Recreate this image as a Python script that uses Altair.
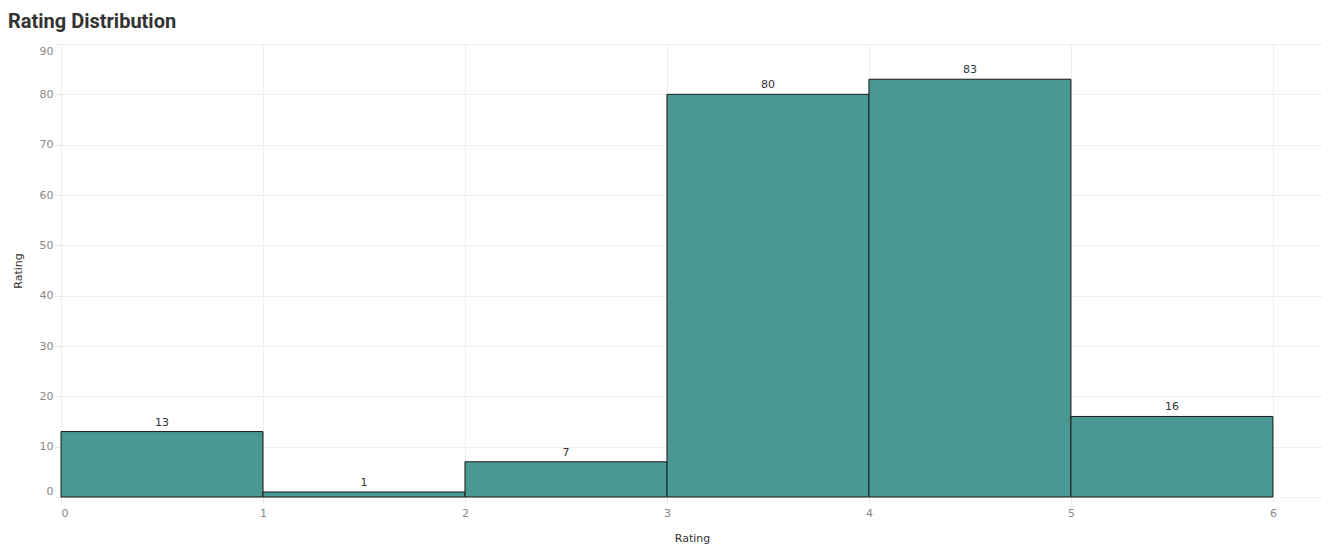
import altair as alt
import pandas as pd

bin_start = [0, 1, 2, 3, 4, 5]
bin_end = [1, 2, 3, 4, 5, 6]
counts = [13, 1, 7, 80, 83, 16]
y_ticks = [0, 10, 20, 30, 40, 50, 60, 70, 80, 90]
x_ticks = [0, 1, 2, 3, 4, 5, 6]

df = pd.DataFrame({"start": bin_start, "end": bin_end, "count": counts})

FONT = "DejaVu Sans"
x_scale = alt.Scale(domain=[0, 6.248], nice=False, zero=False)
y_scale = alt.Scale(domain=[0, 90], nice=False)

base = alt.Chart(df)

bars = base.mark_rect(fill="#4a9893", stroke="#1a1a1a", strokeWidth=1).encode(
    x=alt.X("start:Q", scale=x_scale,
            axis=alt.Axis(title="Rating", values=x_ticks, format="d", labelFlush=True)),
    x2="end:Q",
    y=alt.Y("count:Q", scale=y_scale,
            axis=alt.Axis(title="Rating", values=y_ticks, format="d", labelFlush=True,
                          labelFlushOffset=-1)),
    y2=alt.datum(0),
)

labels = base.mark_text(baseline="bottom", dy=-4, font=FONT, fontSize=11, color="#333333").encode(
    x=alt.X("mid:Q", scale=x_scale),
    y=alt.Y("count:Q", scale=y_scale),
    text=alt.Text("count:Q", format="d"),
).transform_calculate(mid="(datum.start + datum.end) / 2")

chart = (bars + labels).properties(
    width=1262,
    height=453,
    autosize=alt.AutoSizeParams(type="none"),
    padding={"left": 53, "top": 36, "right": 0, "bottom": 48},
    title=alt.TitleParams("Rating Distribution", anchor="start", frame="group", font="Roboto",
                          fontSize=20, fontWeight="bold", color="#333333", dx=-53, offset=12),
).configure_view(stroke=None).configure_axis(
    domain=False,
    grid=True,
    gridColor="#efefef",
    tickColor="#e6e6e6",
    tickSize=6,
    labelFont=FONT,
    labelFontSize=11,
    labelColor="#888888",
    titleFont=FONT,
    titleFontSize=11,
    titleFontWeight="normal",
    titleColor="#333333",
).configure_axisX(labelPadding=4, titlePadding=14).configure_axisY(labelPadding=2, titlePadding=16)

chart.save("out.html", embed_options={"renderer": "svg", "actions": False})
